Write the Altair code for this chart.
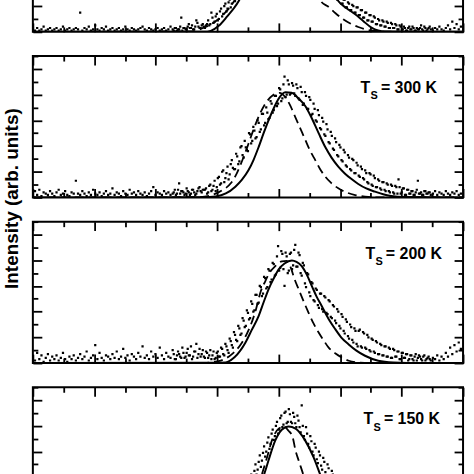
import altair as alt
import pandas as pd

# Flight-time channels shared by every spectrum (arbitrary time units).
CHANNELS = list(range(0, 1400, 7))
# A second, interleaved scan recorded over the arrival window only.
CHANNELS_B = [c + 3.5 for c in CHANNELS[65:185]]

# Surface temperature of each panel, top to bottom (the top label lies outside the view).
TEMPERATURES = [None, 300, 200, 150]

# Measured intensities, one value per channel.
COUNTS_TOP = [
    0.2, 0.1, 0.3, 0.1, 0.2, 0.4, 0.1, 0.2, 0.3, 0.1,
    0.2, 0.3, 0.1, 0.2, 0.4, 0.1, 0.2, 0.3, 0.1, 0.2,
    0.3, 0.2, 1.5, 0.1, 0.3, 0.2, 0.4, 0.1, 0.2, 0.5,
    0.2, 0.1, 0.3, 0.2, 0.4, 0.1, 0.2, 0.3, 0.1, 0.2,
    0.3, 0.1, 0.2, 0.4, 0.2, 0.1, 0.3, 0.2, 0.1, 0.2,
    0.3, 0.4, 0.2, 0.1, 0.3, 0.2, 0.1, 0.2, 0.3, 0.1,
    0.2, 0.3, 0.1, 0.2, 0.4, 0.2, 0.3, 0.1, 0.2, 1.1,
    0.3, 0.2, 0.4, 0.3, 0.5, 0.2, 0.9, 0.4, 0.3, 0.6,
    0.3, 0.6, 0.5, 1.5, 0.7, 1.2, 0.9, 1.6, 1.2, 2.0,
    1.6, 2.3, 1.9, 2.6, 2.4, 3.1, 2.9, 3.6, 3.5, 4.2,
    4.4, 5.0, 5.1, 5.8, 5.9, 6.5, 6.6, 7.2, 7.1, 7.7,
    7.5, 8.2, 7.9, 8.6, 8.2, 8.8, 8.3, 8.9, 8.4, 8.8,
    8.3, 8.7, 8.1, 8.4, 7.8, 8.0, 7.3, 7.5, 6.8, 6.9,
    6.2, 6.3, 5.6, 5.6, 4.9, 5.0, 4.3, 4.4, 3.7, 3.8,
    3.1, 3.2, 2.6, 2.9, 2.2, 2.5, 1.9, 2.2, 1.7, 2.0,
    1.5, 1.9, 1.3, 1.7, 1.1, 1.5, 0.9, 1.3, 0.8, 1.1,
    0.6, 0.9, 0.5, 0.8, 0.4, 0.7, 0.3, 0.6, 0.3, 0.5,
    0.2, 0.4, 0.2, 0.3, 0.1, 0.4, 0.2, 0.3, 0.1, 0.2,
    0.3, 0.2, 0.4, 0.1, 0.3, 0.2, 0.1, 0.3, 0.2, 0.4,
    0.2, 0.1, 0.3, 0.5, 0.2, 0.8, 0.3, 0.6, 0.2, 0.4,
]
COUNTS_300 = [
    0.3, 0.5, 0.2, 0.6, 0.1, 0.4, 0.3, 0.2, 0.5, 0.3,
    0.1, 0.4, 0.6, 0.2, 0.3, 0.5, 0.2, 0.1, 0.4, 0.3,
    1.3, 0.3, 0.2, 0.5, 0.3, 0.1, 0.4, 0.2, 0.6, 0.3,
    0.2, 0.4, 0.1, 0.3, 0.5, 0.2, 0.3, 0.7, 0.2, 0.4,
    0.3, 0.1, 0.5, 0.3, 0.2, 0.6, 0.3, 0.4, 0.2, 0.5,
    0.3, 0.2, 0.4, 0.1, 0.3, 0.5, 0.8, 0.2, 0.4, 0.3,
    0.2, 0.5, 0.3, 0.4, 0.2, 0.3, 0.6, 0.3, 1.1, 0.5,
    0.4, 0.3, 0.5, 0.2, 0.6, 0.4, 0.3, 0.7, 0.5, 0.6,
    0.6, 0.3, 0.9, 0.5, 0.9, 0.5, 1.5, 1.0, 2.0, 1.2,
    1.9, 1.4, 2.6, 2.3, 2.2, 3.2, 2.8, 4.0, 3.1, 3.9,
    3.6, 4.9, 4.4, 5.2, 4.7, 5.8, 5.3, 6.5, 5.8, 6.6,
    6.2, 7.3, 6.8, 7.9, 7.3, 8.4, 7.7, 9.4, 8.0, 8.8,
    8.1, 8.7, 7.9, 8.5, 7.6, 8.2, 7.3, 7.9, 6.9, 7.6,
    6.5, 6.9, 5.9, 6.4, 5.3, 5.9, 4.8, 5.3, 4.2, 4.8,
    3.7, 4.3, 3.2, 3.9, 2.8, 3.5, 2.4, 3.1, 2.1, 2.9,
    1.9, 2.5, 1.6, 2.2, 1.4, 1.9, 1.1, 1.8, 0.9, 1.5,
    0.8, 1.3, 0.6, 1.2, 0.5, 1.0, 0.4, 0.9, 0.3, 0.8,
    1.4, 0.3, 0.7, 0.2, 0.6, 0.3, 0.5, 0.2, 0.4, 1.3,
    0.3, 0.2, 0.5, 0.3, 0.4, 0.2, 0.3, 0.5, 0.2, 0.4,
    0.3, 0.2, 0.5, 0.3, 0.2, 0.4, 0.3, 0.5, 0.2, 0.3,
]
COUNTS_200 = [
    0.5, 0.2, 0.8, 0.3, 0.6, 0.1, 0.4, 0.7, 0.2, 0.5,
    0.3, 0.6, 0.2, 0.4, 0.8, 0.3, 0.1, 0.5, 0.3, 0.6,
    0.2, 0.4, 0.7, 0.3, 0.5, 0.9, 0.2, 0.4, 0.6, 1.4,
    0.3, 0.8, 0.4, 0.2, 0.6, 0.5, 0.3, 0.7, 0.4, 0.9,
    0.3, 0.5, 1.1, 0.4, 0.6, 0.2, 0.7, 0.5, 0.3, 0.8,
    0.5, 1.3, 0.4, 0.6, 0.3, 0.9, 0.5, 0.7, 0.4, 1.2,
    0.6, 0.3, 0.8, 0.5, 0.4, 1.0, 0.3, 0.6, 0.7, 0.4,
    0.8, 0.5, 1.1, 0.6, 0.3, 0.9, 1.5, 0.7, 0.5, 1.0,
    0.4, 0.8, 0.6, 0.3, 0.9, 0.4, 0.9, 0.5, 1.1, 0.6,
    1.3, 0.8, 1.7, 1.2, 2.2, 1.7, 2.7, 2.3, 3.3, 2.9,
    3.9, 3.5, 4.6, 4.1, 5.3, 4.7, 5.9, 5.4, 6.6, 5.9,
    7.2, 6.5, 7.7, 6.9, 9.1, 7.4, 8.5, 6.0, 8.3, 7.2,
    8.6, 7.6, 9.2, 7.5, 8.4, 6.8, 7.6, 5.9, 6.9, 5.2,
    6.2, 4.8, 5.7, 4.3, 5.4, 4.0, 5.1, 3.8, 4.8, 3.5,
    4.4, 3.1, 4.0, 2.7, 3.6, 2.3, 3.2, 1.9, 2.8, 1.6,
    2.5, 1.3, 2.6, 1.2, 2.3, 1.1, 2.0, 0.9, 1.8, 0.8,
    1.6, 0.7, 1.4, 0.6, 1.3, 0.5, 1.1, 0.4, 1.0, 0.5,
    0.9, 0.3, 0.8, 0.4, 0.7, 0.3, 0.6, 0.2, 0.7, 0.4,
    0.5, 0.2, 0.6, 0.3, 0.5, 0.2, 0.4, 0.3, 0.6, 0.2,
    0.5, 0.3, 0.8, 0.5, 1.2, 0.7, 1.4, 0.9, 1.6, 1.1,
]
COUNTS_150 = [
    0.2, 0.4, 0.3, 0.1, 0.5, 0.2, 0.3, 0.4, 0.1, 0.3,
    0.5, 0.2, 0.3, 0.1, 0.4, 0.2, 0.6, 0.3, 0.2, 0.4,
    0.1, 0.3, 0.5, 0.2, 0.3, 0.4, 0.2, 0.1, 0.3, 0.5,
    0.2, 0.4, 0.3, 0.6, 0.2, 0.1, 0.3, 0.4, 0.2, 0.3,
    0.5, 0.1, 0.3, 0.2, 0.4, 0.3, 0.2, 0.5, 0.1, 0.3,
    0.4, 0.2, 0.3, 0.6, 0.2, 0.4, 0.1, 0.3, 0.5, 0.2,
    0.3, 0.4, 0.2, 0.1, 0.5, 0.3, 0.2, 0.4, 0.3, 0.6,
    0.2, 0.3, 0.5, 0.2, 0.4, 0.3, 0.6, 0.2, 0.4, 0.5,
    0.3, 0.6, 0.4, 0.7, 0.5, 0.8, 0.6, 1.0, 0.7, 1.1,
    0.8, 1.3, 1.0, 1.6, 1.3, 2.0, 1.8, 2.5, 2.2, 3.0,
    2.7, 3.7, 3.4, 4.5, 4.2, 5.2, 4.8, 5.9, 5.6, 6.7,
    6.2, 7.4, 6.9, 8.0, 7.4, 8.6, 7.9, 9.0, 8.2, 9.3,
    8.3, 9.0, 8.2, 8.8, 7.9, 9.6, 7.2, 7.9, 6.6, 7.2,
    6.0, 6.6, 5.4, 6.0, 4.9, 5.5, 4.4, 5.0, 3.9, 4.5,
    3.4, 3.9, 2.9, 3.4, 2.4, 2.8, 1.9, 2.3, 1.5, 1.9,
    1.2, 1.5, 0.9, 1.2, 0.7, 1.0, 0.5, 0.8, 0.4, 0.6,
    0.3, 0.5, 0.2, 0.4, 0.3, 0.6, 0.2, 0.3, 0.5, 0.1,
    0.4, 0.3, 0.2, 0.5, 0.3, 0.4, 0.1, 0.3, 0.6, 0.2,
    0.4, 0.3, 0.5, 0.2, 0.3, 0.4, 0.1, 0.5, 0.3, 0.2,
    0.4, 0.6, 0.2, 0.3, 0.5, 0.2, 0.4, 0.3, 0.1, 0.4,
]

# Second scan, one value per channel of CHANNELS_B.
COUNTS_TOP_B = [
    0.1, 0.3, 0.2, 0.4, 0.1, 0.3, 0.2, 0.6, 0.3, 0.2,
    0.4, 0.7, 0.3, 0.5, 0.4, 0.5, 0.9, 0.6, 1.1, 0.8,
    1.4, 1.0, 1.8, 1.4, 2.2, 1.8, 2.5, 2.2, 2.9, 2.7,
    3.4, 3.9, 3.6, 4.6, 4.4, 5.3, 5.2, 6.0, 5.9, 6.6,
    6.5, 7.2, 7.0, 7.7, 7.5, 8.1, 7.9, 8.5, 8.2, 8.7,
    8.4, 8.9, 8.5, 8.8, 8.4, 8.6, 8.1, 8.2, 7.6, 7.8,
    7.1, 7.2, 6.5, 6.6, 5.9, 5.9, 5.2, 5.3, 4.6, 4.7,
    4.0, 4.1, 3.4, 3.6, 2.9, 3.2, 2.5, 2.8, 2.2, 2.5,
    1.9, 2.3, 1.7, 2.1, 1.5, 1.9, 1.3, 1.7, 1.1, 1.5,
    0.9, 1.3, 0.8, 1.2, 0.6, 1.0, 0.5, 0.9, 0.4, 0.8,
    0.3, 0.7, 0.3, 0.6, 0.2, 0.5, 0.2, 0.4, 0.1, 0.3,
    0.2, 0.4, 0.1, 0.3, 0.2, 0.5, 0.1, 0.3, 0.2, 0.4,
]
COUNTS_300_B = [
    0.4, 0.2, 0.6, 0.3, 0.5, 0.2, 0.7, 0.4, 0.3, 0.6,
    0.2, 0.5, 0.8, 0.4, 0.6, 0.7, 0.4, 1.0, 0.6, 1.3,
    0.8, 1.6, 1.1, 2.1, 1.5, 2.4, 1.8, 2.9, 2.2, 3.4,
    2.6, 3.9, 3.3, 4.4, 3.7, 5.0, 4.2, 5.5, 4.6, 6.0,
    5.1, 6.5, 5.6, 7.0, 6.1, 7.5, 6.6, 7.9, 7.1, 8.5,
    7.5, 8.8, 7.8, 9.1, 8.0, 8.9, 8.1, 8.8, 7.7, 8.6,
    7.2, 8.2, 6.9, 7.8, 6.4, 7.3, 6.0, 6.8, 5.4, 6.2,
    4.9, 5.7, 4.3, 5.1, 3.8, 4.6, 3.3, 4.1, 2.9, 3.7,
    2.5, 3.3, 2.2, 3.0, 1.9, 2.7, 1.7, 2.4, 1.5, 2.1,
    1.2, 1.9, 1.0, 1.7, 0.8, 1.4, 0.7, 1.2, 0.6, 1.1,
    0.5, 1.0, 0.4, 0.9, 0.3, 0.8, 0.4, 0.7, 0.2, 0.6,
    0.3, 0.5, 0.2, 0.6, 0.3, 0.4, 0.2, 0.5, 0.3, 0.4,
]
COUNTS_200_B = [
    0.7, 0.3, 0.9, 0.5, 1.2, 0.4, 0.8, 0.6, 1.3, 0.5,
    0.9, 0.4, 1.1, 0.7, 0.5, 0.9, 0.4, 1.0, 0.6, 0.3,
    0.8, 0.5, 1.2, 0.7, 1.5, 1.0, 1.9, 1.4, 2.4, 1.8,
    2.9, 2.2, 3.5, 2.8, 4.1, 3.4, 4.8, 4.0, 5.3, 4.6,
    6.0, 5.2, 6.7, 5.8, 7.3, 6.3, 7.8, 6.8, 8.3, 7.2,
    8.7, 7.3, 8.6, 7.0, 8.5, 7.3, 8.8, 7.5, 8.6, 7.0,
    7.8, 6.2, 7.0, 5.5, 6.3, 4.9, 5.8, 4.5, 5.4, 4.2,
    5.2, 3.9, 4.9, 3.6, 4.5, 3.3, 4.2, 2.9, 3.8, 2.5,
    3.4, 2.1, 3.0, 1.8, 2.7, 1.5, 2.5, 1.3, 2.4, 1.2,
    2.2, 1.0, 1.9, 0.9, 1.7, 0.7, 1.5, 0.6, 1.3, 0.5,
    1.2, 0.4, 1.1, 0.5, 0.9, 0.3, 0.8, 0.4, 0.7, 0.2,
    0.6, 0.3, 0.5, 0.2, 0.6, 0.3, 0.5, 0.2, 0.4, 0.3,
]
COUNTS_150_B = [
    0.3, 0.5, 0.2, 0.4, 0.3, 0.6, 0.2, 0.4, 0.5, 0.3,
    0.2, 0.5, 0.4, 0.3, 0.6, 0.4, 0.7, 0.5, 0.8, 0.6,
    0.9, 0.7, 1.1, 0.8, 1.3, 1.0, 1.5, 1.2, 1.9, 1.6,
    2.4, 2.1, 2.9, 2.6, 3.5, 3.2, 4.2, 3.9, 5.0, 4.6,
    5.7, 5.3, 6.4, 6.0, 7.1, 6.6, 7.7, 7.2, 8.3, 7.7,
    8.8, 8.1, 9.1, 8.3, 8.9, 8.2, 8.7, 7.9, 8.4, 7.5,
    8.0, 6.9, 7.4, 6.3, 6.8, 5.7, 6.3, 5.1, 5.7, 4.6,
    5.2, 4.1, 4.7, 3.7, 4.2, 3.2, 3.6, 2.7, 3.1, 2.2,
    2.6, 1.8, 2.1, 1.4, 1.7, 1.1, 1.4, 0.9, 1.1, 0.7,
    0.9, 0.5, 0.7, 0.4, 0.6, 0.3, 0.5, 0.2, 0.4, 0.3,
    0.5, 0.2, 0.4, 0.3, 0.6, 0.2, 0.3, 0.5, 0.2, 0.4,
    0.3, 0.2, 0.5, 0.3, 0.4, 0.2, 0.3, 0.5, 0.2, 0.4,
]

# Fitted distributions (solid): (time, intensity) samples.
FIT_TOP = [(0, 0.0), (557, 0.0), (579, 0.08), (605, 0.47), (631, 1.16), (670, 2.4),
           (702, 4.0), (735, 5.7), (767, 7.0), (800, 7.8), (832, 8.1), (865, 7.8),
           (897, 7.0), (930, 5.7), (962, 4.1), (994, 2.4), (1020, 1.86), (1049, 1.37),
           (1075, 0.85), (1102, 0.33), (1146, 0.02), (1400, 0.0)]
FIT_300 = [(0, 0.0), (557, 0.02), (595, 0.08), (628, 0.31), (659, 0.84), (680, 1.36),
           (702, 2.13), (718, 2.91), (735, 3.94), (751, 5.0), (767, 6.0), (784, 6.94),
           (800, 7.69), (822, 8.18), (842, 8.14), (865, 7.69), (887, 7.1), (905, 6.3),
           (930, 5.0), (952, 3.9), (972, 3.1), (994, 2.4), (1016, 1.85), (1036, 1.45),
           (1059, 1.05), (1085, 0.7), (1114, 0.45), (1140, 0.25), (1166, 0.12),
           (1205, 0.03), (1400, 0.0)]
FIT_200 = [(0, 0.0), (589, 0.02), (627, 0.05), (657, 0.47), (692, 1.6), (712, 2.56),
           (735, 3.67), (751, 4.73), (767, 5.74), (784, 6.59), (800, 7.29), (819, 7.75),
           (843, 7.98), (858, 7.87), (875, 7.54), (891, 6.9), (908, 5.99), (923, 5.19),
           (940, 4.44), (962, 3.45), (984, 2.64), (1004, 1.98), (1027, 1.47),
           (1053, 0.97), (1081, 0.57), (1124, 0.18), (1173, 0.04), (1221, 0.01), (1400, 0.0)]
FIT_150 = [(0, 0.0), (654, 0.02), (686, 0.41), (719, 1.96), (742, 3.5), (757, 4.54),
           (767, 5.32), (789, 6.87), (810, 7.7), (832, 7.95), (855, 7.78), (886, 6.87),
           (913, 5.58), (930, 4.54), (946, 3.5), (972, 1.96), (1010, 0.41), (1053, 0.02),
           (1400, 0.0)]

# Thermal distributions at the surface temperature (dashed).
THERMAL_TOP = [(0, 0.0), (525, 0.04), (550, 0.27), (573, 0.5), (596, 0.85), (622, 1.4),
               (644, 2.0), (660, 2.6), (690, 4.3), (720, 6.0), (750, 7.2), (780, 7.9),
               (810, 8.1), (840, 7.7), (870, 6.6), (900, 4.9), (937, 2.4), (962, 1.95),
               (985, 1.45), (1010, 0.98), (1033, 0.65), (1059, 0.38), (1082, 0.2),
               (1117, 0.07), (1157, 0.01), (1400, 0.0)]
THERMAL_300 = [(0, 0.0), (540, 0.02), (579, 0.16), (612, 0.5), (644, 1.1), (660, 1.7),
               (675, 2.5), (690, 3.4), (705, 4.4), (720, 5.4), (735, 6.3), (754, 7.2),
               (781, 7.95), (803, 8.14), (822, 7.79), (839, 7.09), (849, 6.53), (868, 5.5),
               (887, 4.46), (903, 3.6), (919, 2.91), (935, 2.2), (952, 1.61), (970, 1.15),
               (994, 0.71), (1020, 0.4), (1049, 0.19), (1092, 0.04), (1150, 0.0), (1400, 0.0)]
THERMAL_200 = [(0, 0.0), (557, 0.02), (605, 0.16), (644, 0.62), (677, 1.47), (702, 2.56),
               (724, 4.0), (742, 5.6), (757, 6.4), (767, 6.9), (789, 7.54), (810, 7.91),
               (826, 7.95), (839, 7.44), (852, 6.51), (865, 5.74), (881, 4.81), (897, 3.93),
               (913, 3.1), (930, 2.38), (946, 1.78), (962, 1.22), (985, 0.74), (1005, 0.44),
               (1028, 0.18), (1059, 0.05), (1098, 0.01), (1400, 0.0)]
THERMAL_150 = [(0, 0.0), (664, 0.02), (686, 0.64), (719, 2.35), (741, 3.9), (761, 5.45),
               (780, 7.0), (800, 7.78), (816, 7.93), (832, 7.62), (845, 7.15), (855, 6.07),
               (865, 5.3), (878, 4.36), (897, 2.74), (923, 1.19), (955, 0.18), (994, 0.02),
               (1400, 0.0)]

Y_TITLE = "Intensity (arb. units)"

W, H = 432, 142
FONT = "Liberation Sans"
X_TICKS = list(range(0, 1401, 100))
Y_TICKS = list(range(0, 12))
X_MAJOR = "datum.value % 200 === 0"
Y_MAJOR = "datum.value % 2 === 0"
x_scale = alt.Scale(domain=[0, 1400], nice=False, zero=False)
y_scale = alt.Scale(domain=[0, 11], nice=False, zero=False)


def border_ticks(orient, values, major_test):
    """Inward-pointing ticks drawn along one edge of the frame."""
    across = H if orient in ("top", "bottom") else W
    return alt.Axis(
        orient=orient, offset=-across, values=values, labels=False, domain=False,
        grid=False, title=None, tickColor="black", tickWidth=1.8,
        tickSize={"condition": {"test": major_test, "value": 9}, "value": 5},
    )


def curve(samples, dashed, with_axes):
    df = pd.DataFrame(samples, columns=["t", "n"])
    style = {"strokeDash": [9, 5], "strokeWidth": 1.8} if dashed else {"strokeWidth": 2}
    if with_axes:
        x_axis = border_ticks("top", X_TICKS, X_MAJOR)     # ticks on the bottom edge
        y_axis = border_ticks("left", Y_TICKS, Y_MAJOR)    # ticks on the right edge
    else:
        x_axis = y_axis = None
    return alt.Chart(df).mark_line(
        color="black", interpolate="monotone", clip=True, **style
    ).encode(
        x=alt.X("t:Q", scale=x_scale, axis=x_axis),
        y=alt.Y("n:Q", scale=y_scale, axis=y_axis),
    )


def panel(counts, counts_b, fit, thermal, temperature, label_x):
    pts = pd.concat([
        pd.DataFrame({"t": CHANNELS, "n": counts}),
        pd.DataFrame({"t": CHANNELS_B, "n": counts_b}),
    ])
    dots = alt.Chart(pts).mark_square(size=5, color="black", opacity=1, clip=True).encode(
        x=alt.X("t:Q", scale=x_scale, axis=border_ticks("bottom", X_TICKS, X_MAJOR)),
        y=alt.Y("n:Q", scale=y_scale, axis=border_ticks("right", Y_TICKS, Y_MAJOR)),
    )
    layers = [dots, curve(fit, False, True), curve(thermal, True, False)]
    if temperature is not None:
        text_style = dict(font=FONT, fontWeight="bold", color="black", align="left",
                          baseline="alphabetic")
        lab = pd.DataFrame({"sym": ["T"], "sub": ["S"], "val": [f"= {temperature} K"]})
        layers += [
            alt.Chart(lab).mark_text(fontSize=16, **text_style).encode(
                text="sym:N", x=alt.value(label_x), y=alt.value(37)),
            alt.Chart(lab).mark_text(fontSize=11, **text_style).encode(
                text="sub:N", x=alt.value(label_x + 10), y=alt.value(43.5)),
            alt.Chart(lab).mark_text(fontSize=16, **text_style).encode(
                text="val:N", x=alt.value(label_x + 20.5), y=alt.value(37)),
        ]
    return alt.layer(*layers).resolve_axis(x="independent", y="independent").properties(
        width=W, height=H)


panels = [
    panel(COUNTS_TOP, COUNTS_TOP_B, FIT_TOP, THERMAL_TOP, TEMPERATURES[0], 330),
    panel(COUNTS_300, COUNTS_300_B, FIT_300, THERMAL_300, TEMPERATURES[1], 329),
    panel(COUNTS_200, COUNTS_200_B, FIT_200, THERMAL_200, TEMPERATURES[2], 334),
    panel(COUNTS_150, COUNTS_150_B, FIT_150, THERMAL_150, TEMPERATURES[3], 332),
]

chart = alt.vconcat(*panels, spacing=20.3).properties(
    padding={"left": 3, "top": -113, "right": 9, "bottom": -58},
    title=alt.TitleParams(
        Y_TITLE, orient="left", anchor="middle", font=FONT, fontSize=19,
        fontWeight="bold", color="black", offset=9, dx=11,
    ),
).configure_view(stroke="black", strokeWidth=2)

chart.save("out.html", embed_options={"renderer": "svg", "actions": False})
